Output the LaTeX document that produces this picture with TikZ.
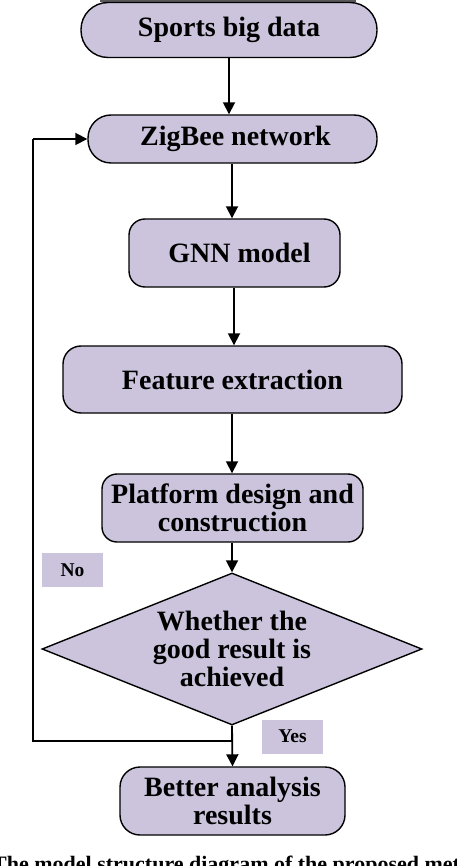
\documentclass[tikz,border=0pt]{standalone}
\usepackage{fontspec}
\setmainfont{Liberation Serif}
\usetikzlibrary{shapes.geometric,arrows.meta}
\definecolor{lav}{RGB}{203,196,220}
\tikzset{
  box/.style={draw=black, line width=1.4pt, fill=lav, align=center, inner sep=0pt,
    font=\fontsize{28}{28}\selectfont\bfseries},
  lbl/.style={fill=lav, inner sep=0pt, minimum width=61pt, minimum height=34pt,
    font=\fontsize{19.5}{20}\selectfont\bfseries},
  conn/.style={line width=1.8pt, -{Triangle[length=12pt,width=12pt]}},
  plain/.style={line width=1.8pt}
}
\begin{document}
\begin{tikzpicture}[x=1pt,y=-1pt]
\clip (0,0) rectangle (456,866);
\fill[white] (0,0) rectangle (456,866);
\fill[black!65] (100,0) rectangle (356,2.5);
\node[box, minimum width=296pt, minimum height=55pt, rounded corners=27pt] (s) at (229,30) {Sports big data};
\node[box, minimum width=289pt, minimum height=48pt, rounded corners=23pt] (z) at (232.5,139) {\hspace*{6pt}ZigBee network};
\node[box, minimum width=211pt, minimum height=68pt, rounded corners=16pt] (g) at (234.5,253) {\hspace*{10pt}GNN model};
\node[box, minimum width=339pt, minimum height=67pt, rounded corners=18pt] (f) at (232.5,379.5) {Feature extraction};
\node[box, minimum width=261pt, minimum height=68pt, rounded corners=15pt] (p) at (232.5,508) {Platform design and\\construction};
\node[box, shape=diamond, aspect=2.5, minimum width=380pt, minimum height=152pt] (d) at (232,649) {Whether the\\good result is\\achieved};
\node[box, minimum width=225pt, minimum height=68pt, rounded corners=20pt] (b) at (232.5,801) {Better analysis\\results};
\node[lbl] (no) at (72.5,570) {No};
\node[lbl] (yes) at (292.5,736.5) {Yes};
\coordinate (lc) at (33,741);
\draw[conn] (s.south) -- (s.south |- z.north);
\draw[conn] (z.south -| 232,0) -- (232,0 |- g.north);
\draw[conn] (234,0 |- g.south) -- (234,0 |- f.north);
\draw[conn] (f.south -| 232,0) -- (232,0 |- p.north);
\draw[conn] (p.south -| 232,0) -- (d.north);
\draw[conn] (d.south) -- (b.north);
\draw[plain] (d.south) -- (d.south |- lc) -- (lc) -- (lc |- z.west);
\draw[conn] (lc |- z.west) -- (z.west);
\node[anchor=base west, inner sep=0pt, font=\fontsize{22}{22}\selectfont\bfseries] (cap) at (-8,871) {The model structure diagram of the proposed method};
\end{tikzpicture}
\end{document}
